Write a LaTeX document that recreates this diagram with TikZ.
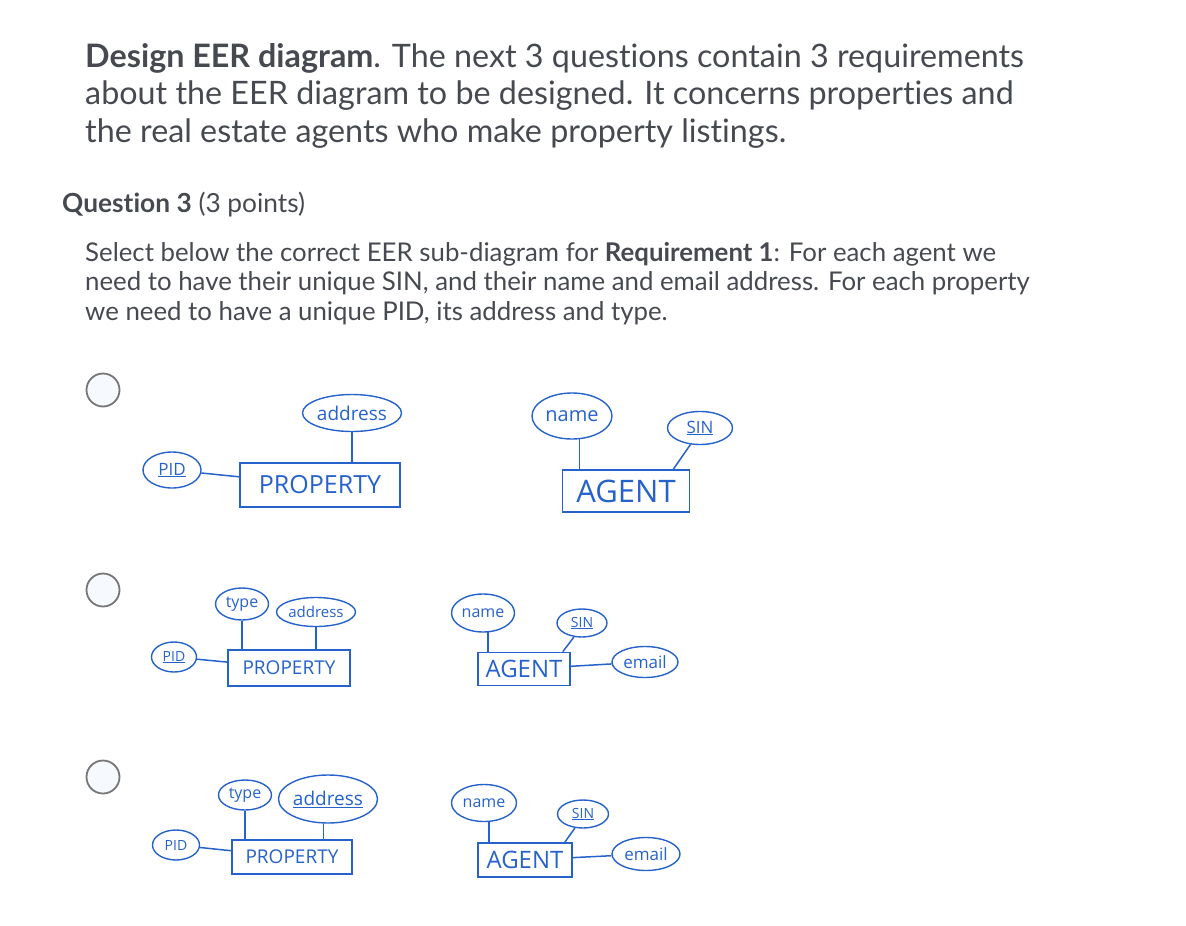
\documentclass[tikz,border=0pt]{standalone}
\usepackage{fontspec}
\setmainfont{Lato}[Ligatures=NoCommon]
\newfontfamily\handfont{Open Sans}
\usetikzlibrary{shapes.geometric}
\definecolor{textgray}{RGB}{70,74,80}
\definecolor{hand}{RGB}{38,98,204}
\definecolor{radiogray}{RGB}{118,118,118}
\definecolor{radiofill}{RGB}{246,249,254}
\begin{document}
\begin{tikzpicture}[x=1pt,y=-1pt,
					entity/.style={shape=rectangle, draw=hand, line width=1.7, inner sep=0pt, text=hand},
					attr/.style={shape=ellipse, draw=hand, line width=1.4, inner sep=0pt, text=hand},
					link/.style={draw=hand, line width=1.5},
					radio/.style={shape=circle, draw=radiogray, fill=radiofill, line width=1.8, minimum size=33pt, inner sep=0pt},
					txt/.style={anchor=base west, inner sep=0pt, text=textgray}
					]
	\useasboundingbox (0,0) rectangle (1186,926);
	%heading
	\node[txt,font=\fontsize{32.3}{37}\selectfont] (h1) at (85,67) {\textbf{Design EER diagram}. The next 3 questions contain 3 requirements}; %line 1
	\node[txt,font=\fontsize{32.3}{37}\selectfont] (h2) at (85,104.5) {about the EER diagram to be designed. It concerns properties and}; %line 2
	\node[txt,font=\fontsize{32.3}{37}\selectfont] (h3) at (85,142) {the real estate agents who make property listings.}; %line 3
	\node[txt,font=\fontsize{26.3}{28}\selectfont] (q) at (62,212) {\textbf{Question 3} (3 points)}; %question
	\node[txt,font=\fontsize{25.8}{29}\selectfont] (b1) at (85,261) {Select below the correct EER sub-diagram for \textbf{Requirement 1}: For each agent we}; %body 1
	\node[txt,font=\fontsize{25.8}{29}\selectfont] (b2) at (85,290.5) {need to have their unique SIN, and their name and email address. For each property}; %body 2
	\node[txt,font=\fontsize{25.8}{29}\selectfont] (b3) at (85,320) {we need to have a unique PID, its address and type.}; %body 3

	%radio buttons
	\node[radio] (r1) at (103,390) {};
	\node[radio] (r2) at (103,590) {};
	\node[radio] (r3) at (103,777) {};

	%Option 1-----------------------------------------------
	\node[attr, minimum width=58, minimum height=36, font=\handfont\fontsize{17}{17}\selectfont] (pid1) at (172,470) {\underline{PID}};
	\node[entity, minimum width=160, minimum height=44, font=\handfont\fontsize{25}{25}\selectfont] (prop1) at (320,485) {PROPERTY};
	\node[attr, minimum width=96, minimum height=37, font=\handfont\fontsize{19}{19}\selectfont] (addr1) at (352,413) {address};
	\node[attr, minimum width=80, minimum height=46, font=\handfont\fontsize{20}{20}\selectfont] (name1) at (572,416) {name};
	\node[attr, minimum width=65, minimum height=33, font=\handfont\fontsize{17}{17}\selectfont] (sin1) at (700,428) {\underline{SIN}};
	\node[entity, minimum width=127, minimum height=42, font=\handfont\fontsize{31}{31}\selectfont] (agent1) at (626,491) {AGENT};
	\draw[link] (pid1) -- (prop1);
	\draw[link] (addr1.south) -- (addr1.south |- prop1.north);
	\draw[link] (name1.-72) -- (name1.-72 |- agent1.north);
	\draw[link] (sin1.240) -- ([xshift=-17pt]agent1.north east);

	%Option 2-----------------------------------------------
	\node[attr, minimum width=53, minimum height=32, font=\handfont\fontsize{16}{16}\selectfont] (type2) at (242,604) {type};
	\node[attr, minimum width=79, minimum height=29, font=\handfont\fontsize{15}{15}\selectfont] (addr2) at (316,612) {address};
	\node[attr, minimum width=45, minimum height=30, font=\handfont\fontsize{14}{14}\selectfont] (pid2) at (174,657) {\underline{PID}};
	\node[entity, minimum width=122, minimum height=36, font=\handfont\fontsize{19}{19}\selectfont] (prop2) at (289,668) {PROPERTY};
	\node[attr, minimum width=63, minimum height=38, font=\handfont\fontsize{16}{16}\selectfont] (name2) at (483,613) {name};
	\node[attr, minimum width=50, minimum height=28, font=\handfont\fontsize{14}{14}\selectfont] (sin2) at (582,623) {\underline{SIN}};
	\node[entity, minimum width=92, minimum height=33, font=\handfont\fontsize{24}{24}\selectfont] (agent2) at (524,669) {AGENT};
	\node[attr, minimum width=66, minimum height=31, font=\handfont\fontsize{17}{17}\selectfont] (email2) at (645,662) {email};
	\draw[link] (pid2) -- (prop2);
	\draw[link] (type2.south) -- (type2.south |- prop2.north);
	\draw[link] (addr2.south) -- (addr2.south |- prop2.north);
	\draw[link] (name2.-75) -- (name2.-75 |- agent2.north);
	\draw[link] (sin2.240) -- ([xshift=-8pt]agent2.north east);
	\draw[link] (agent2) -- (email2);

	%Option 3-----------------------------------------------
	\node[attr, minimum width=53, minimum height=30, font=\handfont\fontsize{16}{16}\selectfont] (type3) at (245,795) {type};
	\node[attr, minimum width=90, minimum height=48, font=\handfont\fontsize{19}{19}\selectfont] (addr3) at (328,799) {\underline{address}};
	\node[attr, minimum width=47, minimum height=30, font=\handfont\fontsize{14}{14}\selectfont] (pid3) at (176,845) {PID};
	\node[entity, minimum width=120, minimum height=34, font=\handfont\fontsize{19}{19}\selectfont] (prop3) at (292,857) {PROPERTY};
	\node[attr, minimum width=65, minimum height=37, font=\handfont\fontsize{16}{16}\selectfont] (name3) at (484,803) {name};
	\node[attr, minimum width=51, minimum height=28, font=\handfont\fontsize{14}{14}\selectfont] (sin3) at (583,814) {\underline{SIN}};
	\node[entity, minimum width=94, minimum height=34, font=\handfont\fontsize{24}{24}\selectfont] (agent3) at (525,860) {AGENT};
	\node[attr, minimum width=68, minimum height=33, font=\handfont\fontsize{17}{17}\selectfont] (email3) at (646,854) {email};
	\draw[link] (pid3) -- (prop3);
	\draw[link] (type3.south) -- (type3.south |- prop3.north);
	\draw[link] (addr3.-100) -- (addr3.-100 |- prop3.north);
	\draw[link] (name3.-75) -- (name3.-75 |- agent3.north);
	\draw[link] (sin3.240) -- ([xshift=-8pt]agent3.north east);
	\draw[link] (agent3) -- (email3);
\end{tikzpicture}
\end{document}
